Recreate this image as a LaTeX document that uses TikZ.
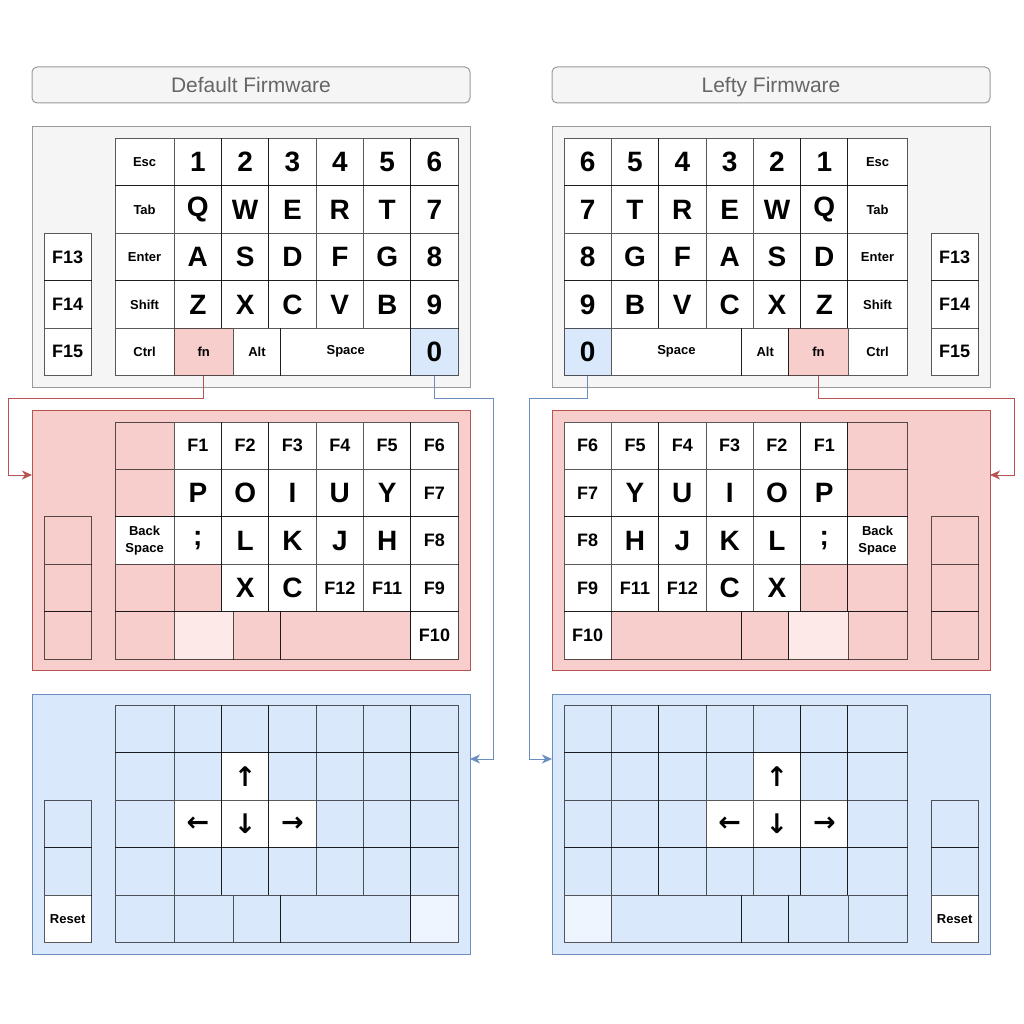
\documentclass[tikz,border=0pt]{standalone}
\usepackage{fontspec}
\setmainfont{Liberation Sans}
\newfontfamily\arrowfont{DejaVu Sans}
\usetikzlibrary{arrows.meta,positioning}

\definecolor{panelgray}{HTML}{F5F5F5}
\definecolor{linegray}{HTML}{9A9A9A}
\definecolor{titletext}{HTML}{666666}
\definecolor{redfill}{HTML}{F8CECC}
\definecolor{redline}{HTML}{B85450}
\definecolor{bluefill}{HTML}{DAE8FC}
\definecolor{blueline}{HTML}{6C8EBF}

\tikzset{
  panel/.style = {draw = linegray, fill = panelgray, line width = 1pt, anchor = north west,
    inner sep = 0, outer sep = 0, minimum width = 438pt, minimum height = 260pt},
  fnpanel/.style = {panel, draw = redline, fill = redfill},
  navpanel/.style = {panel, draw = blueline, fill = bluefill},
  titlebox/.style = {panel, minimum height = 36pt, rounded corners = 5pt, text = titletext,
    text height = 18pt, text depth = 2pt, font = \fontsize{21}{25}\selectfont},
  key/.style = {draw = black, draw opacity = 0.65, fill = white, line width = 1pt,
    inner sep = 0, outer sep = 0, minimum width = 47.33pt, minimum height = 47.4pt,
    font = \bfseries\fontsize{28}{30}\selectfont},
  wkey/.style = {key, minimum width = 59.17pt},
  spacekey/.style = {key, minimum width = 130.16pt},
  lbl/.style = {font = \bfseries\fontsize{13}{17}\selectfont, align = center},
  wlbl/.style = {wkey, lbl},
  fk/.style = {font = \bfseries\fontsize{18}{20}\selectfont},
  ar/.style = {font = \arrowfont\bfseries\fontsize{27}{29}\selectfont},
  big/.style = {},
  pk/.style = {fill = redfill},
  wpk/.style = {wkey, fill = redfill},
  lpk/.style = {fill = redfill!45!white},
  bk/.style = {fill = bluefill},
  wbk/.style = {wkey, fill = bluefill},
  lbk/.style = {fill = bluefill!45!white},
  link/.style = {line width = 1pt, -{Stealth[length = 10pt, width = 9pt, inset = 3pt]}},
  redlink/.style = {link, draw = redline},
  bluelink/.style = {link, draw = blueline}
}

\begin{document}
\begin{tikzpicture}[x = 1pt, y = -1pt]
\fill [white] (0,0) rectangle (1024,1024);
\useasboundingbox (0,0) rectangle (1024,1024);

% titles
\node [titlebox] (dtitle) at (32,67) {Default Firmware};
\node [titlebox] (ltitle) at (552,67) {Lefty Firmware};

% panels
\node [panel] (dbase) at (32,127) {};
\node [fnpanel] (dfn) at (32,410.5) {};
\node [navpanel] (dnav) at (32,694) {};
\node [panel] (lbase) at (552,127) {};
\node [fnpanel] (lfn) at (552,410.5) {};
\node [navpanel] (lnav) at (552,694) {};

%%% default firmware, base layer
\node [wlbl, anchor = north west] (dt-0-0) at (115,138.5) {Esc};
\foreach \t [count = \i, evaluate = \i as \j using int(\i-1)] in {1,2,3,4,5,6}
  \node [key] (dt-0-\i) [right = 0pt of dt-0-\j] {\t};
\node [wlbl] (dt-1-0) [below = 0pt of dt-0-0] {Tab};
\foreach \t [count = \i, evaluate = \i as \j using int(\i-1)] in {Q,W,E,R,T,7}
  \node [key] (dt-1-\i) [right = 0pt of dt-1-\j] {\t};
\node [wlbl] (dt-2-0) [below = 0pt of dt-1-0] {Enter};
\foreach \t [count = \i, evaluate = \i as \j using int(\i-1)] in {A,S,D,F,G,8}
  \node [key] (dt-2-\i) [right = 0pt of dt-2-\j] {\t};
\node [wlbl] (dt-3-0) [below = 0pt of dt-2-0] {Shift};
\foreach \t [count = \i, evaluate = \i as \j using int(\i-1)] in {Z,X,C,V,B,9}
  \node [key] (dt-3-\i) [right = 0pt of dt-3-\j] {\t};
\node [wlbl] (dt-4-0) [below = 0pt of dt-3-0] {Ctrl};
\node [wlbl, pk] (dt-4-1) [right = 0pt of dt-4-0] {fn};
\node [key, lbl] (dt-4-2) [right = 0pt of dt-4-1] {Alt};
\node [spacekey, lbl] (dt-4-3) [right = 0pt of dt-4-2] {Space};
\node [key, bk] (dt-4-4) [right = 0pt of dt-4-3] {0};
\node [key, fk, anchor = north west] (dt-f13) at (44,233.3) {F13};
\node [key, fk] (dt-f14) [below = 0pt of dt-f13] {F14};
\node [key, fk] (dt-f15) [below = 0pt of dt-f14] {F15};

%%% default firmware, fn layer
\node [wpk, anchor = north west] (df-0-0) at (115,422) {};
\foreach \t [count = \i, evaluate = \i as \j using int(\i-1)] in {F1,F2,F3,F4,F5,F6}
  \node [key, fk] (df-0-\i) [right = 0pt of df-0-\j] {\t};
\node [wpk] (df-1-0) [below = 0pt of df-0-0] {};
\foreach \t/\s [count = \i, evaluate = \i as \j using int(\i-1)] in {P/big,O/big,I/big,U/big,Y/big,F7/fk}
  \node [key, \s] (df-1-\i) [right = 0pt of df-1-\j] {\t};
\node [wlbl] (df-2-0) [below = 0pt of df-1-0] {Back\\Space};
\foreach \t/\s [count = \i, evaluate = \i as \j using int(\i-1)] in {;/big,L/big,K/big,J/big,H/big,F8/fk}
  \node [key, \s] (df-2-\i) [right = 0pt of df-2-\j] {\t};
\node [wpk] (df-3-0) [below = 0pt of df-2-0] {};
\foreach \t/\s [count = \i, evaluate = \i as \j using int(\i-1)] in {/pk,X/big,C/big,F12/fk,F11/fk,F9/fk}
  \node [key, \s] (df-3-\i) [right = 0pt of df-3-\j] {\t};
\node [wpk] (df-4-0) [below = 0pt of df-3-0] {};
\node [wkey, lpk] (df-4-1) [right = 0pt of df-4-0] {};
\node [key, pk] (df-4-2) [right = 0pt of df-4-1] {};
\node [spacekey, pk] (df-4-3) [right = 0pt of df-4-2] {};
\node [key, fk] (df-4-4) [right = 0pt of df-4-3] {F10};
\node [key, pk, anchor = north west] (df-s1) at (44,516.8) {};
\node [key, pk] (df-s2) [below = 0pt of df-s1] {};
\node [key, pk] (df-s3) [below = 0pt of df-s2] {};

%%% default firmware, arrow layer
\node [wbk, anchor = north west] (da-0-0) at (115,705.5) {};
\foreach \i [evaluate = \i as \j using int(\i-1)] in {1,...,6}
  \node [key, bk] (da-0-\i) [right = 0pt of da-0-\j] {};
\node [wbk] (da-1-0) [below = 0pt of da-0-0] {};
\foreach \t/\s [count = \i, evaluate = \i as \j using int(\i-1)] in {/bk,↑/ar,/bk,/bk,/bk,/bk}
  \node [key, \s] (da-1-\i) [right = 0pt of da-1-\j] {\t};
\node [wbk] (da-2-0) [below = 0pt of da-1-0] {};
\foreach \t/\s [count = \i, evaluate = \i as \j using int(\i-1)] in {←/ar,↓/ar,→/ar,/bk,/bk,/bk}
  \node [key, \s] (da-2-\i) [right = 0pt of da-2-\j] {\t};
\node [wbk] (da-3-0) [below = 0pt of da-2-0] {};
\foreach \i [evaluate = \i as \j using int(\i-1)] in {1,...,6}
  \node [key, bk] (da-3-\i) [right = 0pt of da-3-\j] {};
\node [wbk] (da-4-0) [below = 0pt of da-3-0] {};
\node [wbk] (da-4-1) [right = 0pt of da-4-0] {};
\node [key, bk] (da-4-2) [right = 0pt of da-4-1] {};
\node [spacekey, bk] (da-4-3) [right = 0pt of da-4-2] {};
\node [key, lbk] (da-4-4) [right = 0pt of da-4-3] {};
\node [key, bk, anchor = north west] (da-s1) at (44,800.3) {};
\node [key, bk] (da-s2) [below = 0pt of da-s1] {};
\node [key, lbl] (da-reset) [below = 0pt of da-s2] {Reset};

%%% lefty firmware, base layer
\node [key, anchor = north west] (lt-0-0) at (564,138.5) {6};
\foreach \t/\s [count = \i, evaluate = \i as \j using int(\i-1)] in {5/key,4/key,3/key,2/key,1/key,Esc/wlbl}
  \node [key, \s] (lt-0-\i) [right = 0pt of lt-0-\j] {\t};
\node [key] (lt-1-0) [below = 0pt of lt-0-0] {7};
\foreach \t/\s [count = \i, evaluate = \i as \j using int(\i-1)] in {T/key,R/key,E/key,W/key,Q/key,Tab/wlbl}
  \node [key, \s] (lt-1-\i) [right = 0pt of lt-1-\j] {\t};
\node [key] (lt-2-0) [below = 0pt of lt-1-0] {8};
\foreach \t/\s [count = \i, evaluate = \i as \j using int(\i-1)] in {G/key,F/key,A/key,S/key,D/key,Enter/wlbl}
  \node [key, \s] (lt-2-\i) [right = 0pt of lt-2-\j] {\t};
\node [key] (lt-3-0) [below = 0pt of lt-2-0] {9};
\foreach \t/\s [count = \i, evaluate = \i as \j using int(\i-1)] in {B/key,V/key,C/key,X/key,Z/key,Shift/wlbl}
  \node [key, \s] (lt-3-\i) [right = 0pt of lt-3-\j] {\t};
\node [key, bk] (lt-4-0) [below = 0pt of lt-3-0] {0};
\node [spacekey, lbl] (lt-4-1) [right = 0pt of lt-4-0] {Space};
\node [key, lbl] (lt-4-2) [right = 0pt of lt-4-1] {Alt};
\node [wlbl, pk] (lt-4-3) [right = 0pt of lt-4-2] {fn};
\node [wlbl] (lt-4-4) [right = 0pt of lt-4-3] {Ctrl};
\node [key, fk, anchor = north west] (lt-f13) at (931,233.3) {F13};
\node [key, fk] (lt-f14) [below = 0pt of lt-f13] {F14};
\node [key, fk] (lt-f15) [below = 0pt of lt-f14] {F15};

%%% lefty firmware, fn layer
\node [key, fk, anchor = north west] (lf-0-0) at (564,422) {F6};
\foreach \t/\s [count = \i, evaluate = \i as \j using int(\i-1)] in {F5/fk,F4/fk,F3/fk,F2/fk,F1/fk,/wpk}
  \node [key, \s] (lf-0-\i) [right = 0pt of lf-0-\j] {\t};
\node [key, fk] (lf-1-0) [below = 0pt of lf-0-0] {F7};
\foreach \t/\s [count = \i, evaluate = \i as \j using int(\i-1)] in {Y/big,U/big,I/big,O/big,P/big,/wpk}
  \node [key, \s] (lf-1-\i) [right = 0pt of lf-1-\j] {\t};
\node [key, fk] (lf-2-0) [below = 0pt of lf-1-0] {F8};
\foreach \t/\s [count = \i, evaluate = \i as \j using int(\i-1)] in {H/big,J/big,K/big,L/big,;/big,Back\\Space/wlbl}
  \node [key, \s] (lf-2-\i) [right = 0pt of lf-2-\j] {\t};
\node [key, fk] (lf-3-0) [below = 0pt of lf-2-0] {F9};
\foreach \t/\s [count = \i, evaluate = \i as \j using int(\i-1)] in {F11/fk,F12/fk,C/big,X/big,/pk,/wpk}
  \node [key, \s] (lf-3-\i) [right = 0pt of lf-3-\j] {\t};
\node [key, fk] (lf-4-0) [below = 0pt of lf-3-0] {F10};
\node [spacekey, pk] (lf-4-1) [right = 0pt of lf-4-0] {};
\node [key, pk] (lf-4-2) [right = 0pt of lf-4-1] {};
\node [wkey, lpk] (lf-4-3) [right = 0pt of lf-4-2] {};
\node [wpk] (lf-4-4) [right = 0pt of lf-4-3] {};
\node [key, pk, anchor = north west] (lf-s1) at (931,516.8) {};
\node [key, pk] (lf-s2) [below = 0pt of lf-s1] {};
\node [key, pk] (lf-s3) [below = 0pt of lf-s2] {};

%%% lefty firmware, arrow layer
\node [key, bk, anchor = north west] (la-0-0) at (564,705.5) {};
\foreach \t/\s [count = \i, evaluate = \i as \j using int(\i-1)] in {/bk,/bk,/bk,/bk,/bk,/wbk}
  \node [key, \s] (la-0-\i) [right = 0pt of la-0-\j] {\t};
\node [key, bk] (la-1-0) [below = 0pt of la-0-0] {};
\foreach \t/\s [count = \i, evaluate = \i as \j using int(\i-1)] in {/bk,/bk,/bk,↑/ar,/bk,/wbk}
  \node [key, \s] (la-1-\i) [right = 0pt of la-1-\j] {\t};
\node [key, bk] (la-2-0) [below = 0pt of la-1-0] {};
\foreach \t/\s [count = \i, evaluate = \i as \j using int(\i-1)] in {/bk,/bk,←/ar,↓/ar,→/ar,/wbk}
  \node [key, \s] (la-2-\i) [right = 0pt of la-2-\j] {\t};
\node [key, bk] (la-3-0) [below = 0pt of la-2-0] {};
\foreach \t/\s [count = \i, evaluate = \i as \j using int(\i-1)] in {/bk,/bk,/bk,/bk,/bk,/wbk}
  \node [key, \s] (la-3-\i) [right = 0pt of la-3-\j] {\t};
\node [key, lbk] (la-4-0) [below = 0pt of la-3-0] {};
\node [spacekey, bk] (la-4-1) [right = 0pt of la-4-0] {};
\node [key, bk] (la-4-2) [right = 0pt of la-4-1] {};
\node [wbk] (la-4-3) [right = 0pt of la-4-2] {};
\node [wbk] (la-4-4) [right = 0pt of la-4-3] {};
\node [key, bk, anchor = north west] (la-s1) at (931,800.3) {};
\node [key, bk] (la-s2) [below = 0pt of la-s1] {};
\node [key, lbl] (la-reset) [below = 0pt of la-s2] {Reset};

% layer links
\draw [redlink] (dt-4-1.south) -- ++(0,23) -| ([xshift = -24pt, yshift = -64.5pt] dfn.north west)
  -- ([yshift = -64.5pt] dfn.north west);
\draw [bluelink] (dt-4-4.south) -- ++(0,23) -| ([xshift = 23pt, yshift = -65pt] dnav.north east)
  -- ([yshift = -65pt] dnav.north east);
\draw [bluelink] (lt-4-0.south) -- ++(0,23) -| ([xshift = -23pt, yshift = -65pt] lnav.north west)
  -- ([yshift = -65pt] lnav.north west);
\draw [redlink] (lt-4-3.south) -- ++(0,23) -| ([xshift = 24pt, yshift = -64.5pt] lfn.north east)
  -- ([yshift = -64.5pt] lfn.north east);
\end{tikzpicture}
\end{document}
